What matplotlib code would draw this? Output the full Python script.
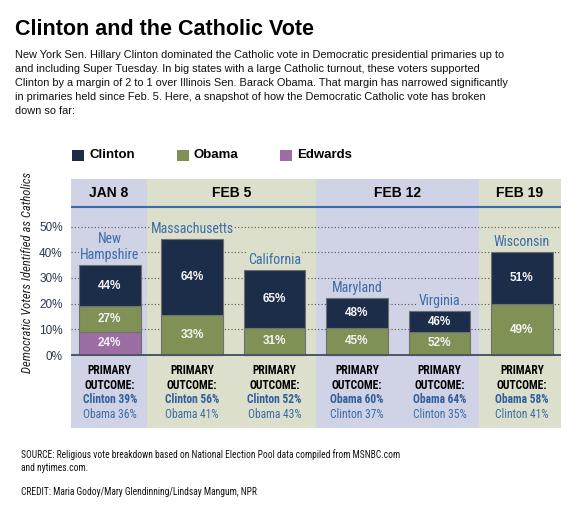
import numpy as np
import matplotlib
matplotlib.use("Agg")
import matplotlib.pyplot as plt
import matplotlib.font_manager as fm
from matplotlib.patches import Rectangle

# data
states = ["New\nHampshire", "Massachusetts", "California", "Maryland", "Virginia", "Wisconsin"]
# bar segment heights, % of Democratic voters identified as Catholics
edwards_h = [9.0, 0, 0, 0, 0, 0]
obama_h = [10.0, 15.5, 10.6, 10.6, 9.0, 19.7]
clinton_h = [16.0, 29.5, 22.4, 11.4, 8.0, 20.3]
# share of the Catholic vote, printed in the segments
edwards_lbl = ["24%", "", "", "", "", ""]
obama_lbl = ["27%", "33%", "31%", "45%", "52%", "49%"]
clinton_lbl = ["44%", "64%", "65%", "48%", "46%", "51%"]
# primary outcomes
winner = ["Clinton 39%", "Clinton 56%", "Clinton 52%", "Obama 60%", "Obama 64%", "Obama 58%"]
runner = ["Obama 36%", "Obama 41%", "Obama 43%", "Clinton 37%", "Clinton 35%", "Clinton 41%"]
dates = ["JAN 8", "FEB 5", "FEB 12", "FEB 19"]
date_edges = [-0.47, 0.45, 2.5, 4.48, 5.475]
yticks = [0, 10, 20, 30, 40, 50]

title = "Clinton and the Catholic Vote"
intro = [
    "New York Sen. Hillary Clinton dominated the Catholic vote in Democratic presidential primaries up to",
    "and including Super Tuesday. In big states with a large Catholic turnout, these voters supported",
    "Clinton by a margin of 2 to 1 over Illinois Sen. Barack Obama. That margin has narrowed significantly",
    "in primaries held since Feb. 5. Here, a snapshot of how the Democratic Catholic vote has broken",
    "down so far:",
]
source = ["SOURCE: Religious vote breakdown based on National Election Pool data compiled from MSNBC.com",
          "and nytimes.com."]
credit = "CREDIT: Maria Godoy/Mary Glendinning/Lindsay Mangum, NPR"

C_CLINTON = "#1c2d4a"
C_OBAMA = "#7f9155"
C_EDWARDS = "#9c6ea3"
BG = ["#d0d2e6", "#dcdfcb", "#d0d2e6", "#dcdfcb"]
BLUE = "#3b6ca8"
SANS = ["Liberation Sans", "DejaVu Sans"]

# look for a condensed face, the original uses a condensed grotesque
have = {f.name for f in fm.fontManager.ttflist}
NARROW = None
NSTRETCH = "normal"
for cand in ["Liberation Sans Narrow", "Arial Narrow", "Roboto Condensed", "Open Sans Condensed",
             "Noto Sans Condensed", "DejaVu Sans Condensed"]:
    if cand in have:
        NARROW = [cand, "DejaVu Sans"]
        break
if NARROW is None:
    cond = [f.name for f in fm.fontManager.ttflist
            if str(f.stretch) in ("condensed", "semi-condensed", "extra-condensed", "ultra-condensed",
                                  "500", "400", "300", "200")]
    if cond:
        NARROW = [cond[0], "DejaVu Sans"]
        NSTRETCH = "condensed"
NSCALE = 1.0
if NARROW is None:
    NARROW = SANS
    NSCALE = 0.84

def nsize(s):
    return s * NSCALE

W, H = 579, 511
fig = plt.figure(figsize=(W / 100, H / 100), dpi=100)
fig.patch.set_facecolor("white")

def fx(px):
    return px / W

def fy(py):
    return (H - py) / H

ax = fig.add_axes([fx(71), fy(428), 490 / W, (428 - 179) / H])
ax.set_xlim(date_edges[0], date_edges[-1])
ax.set_ylim(-28.4, 68.5)
for s in ax.spines.values():
    s.set_visible(False)

# background bands per date
for i in range(len(dates)):
    ax.axvspan(date_edges[i], date_edges[i + 1], color=BG[i], zorder=0, lw=0)
    ax.text((date_edges[i] + date_edges[i + 1]) / 2, 63.0, dates[i], ha="center", va="center",
            fontsize=10, fontweight="bold", family=SANS, color="black")
ax.axhline(57.7, color=BLUE, lw=1.5, zorder=2)

for v in yticks[1:]:
    ax.axhline(v, color="#555555", lw=0.8, linestyle=(0, (1, 2)), zorder=1)
ax.axhline(0, color="#4b5566", lw=1.4, zorder=4)

x = np.arange(len(states))
bw = 0.75
edw = np.array(edwards_h)
oba = np.array(obama_h)
cli = np.array(clinton_h)
ax.bar(x, edw, bw, color=C_EDWARDS, edgecolor="#707070", lw=0.8, zorder=3)
ax.bar(x, oba, bw, bottom=edw, color=C_OBAMA, edgecolor="#707070", lw=0.8, zorder=3)
ax.bar(x, cli, bw, bottom=edw + oba, color=C_CLINTON, edgecolor="#707070", lw=0.8, zorder=3)

lab_kw = dict(ha="center", va="center", color="#f4f4f4", fontsize=8.5, fontweight="bold",
              family=SANS, zorder=5)
nk = dict(family=NARROW, fontstretch=NSTRETCH)
for i in range(len(states)):
    if edwards_lbl[i]:
        ax.text(x[i], edw[i] / 2, edwards_lbl[i], **lab_kw)
    ax.text(x[i], edw[i] + oba[i] / 2, obama_lbl[i], **lab_kw)
    ax.text(x[i], edw[i] + oba[i] + cli[i] / 2, clinton_lbl[i], **lab_kw)
    top = edw[i] + oba[i] + cli[i]
    band = np.searchsorted(date_edges, x[i]) - 1
    ax.text(x[i], top + 1.2, states[i], ha="center", va="bottom", color=BLUE, fontsize=nsize(10),
            linespacing=1.15, zorder=5,
            bbox=dict(facecolor=BG[band], edgecolor="none", pad=0.5), **nk)
    # primary outcome block
    ax.text(x[i], -6.1, "PRIMARY", ha="center", va="center", fontsize=nsize(8.3), fontweight="bold",
            color="black", **nk)
    ax.text(x[i], -12.0, "OUTCOME:", ha="center", va="center", fontsize=nsize(8.3), fontweight="bold",
            color="black", **nk)
    ax.text(x[i], -17.5, winner[i], ha="center", va="center", fontsize=nsize(8.3), fontweight="bold",
            color="#2f5f9e", **nk)
    ax.text(x[i], -23.3, runner[i], ha="center", va="center", fontsize=nsize(8.3),
            color=BLUE, **nk)

ax.set_xticks([])
ax.set_yticks(yticks)
ax.set_yticklabels([f"{v}%" for v in yticks], fontsize=8.5, color="#2b3650", family=SANS)
ax.tick_params(axis="y", length=0, pad=6)

fig.text(fx(28), fy(272.5), "Democratic Voters Identified as Catholics", rotation=90,
         ha="center", va="center", fontsize=nsize(9.1), style="italic", color="#222222", **nk)

# legend
for px, name, col in [(72, "Clinton", C_CLINTON), (176.5, "Obama", C_OBAMA), (280, "Edwards", C_EDWARDS)]:
    fig.patches.append(Rectangle((fx(px), fy(161)), 12 / W, 11 / H, transform=fig.transFigure,
                                 facecolor=col, edgecolor="none"))
    fig.text(fx(px + 17), fy(155.5), name, ha="left", va="center", fontsize=9.5,
             fontweight="bold", family=SANS, color="black")

# title and text
fig.text(fx(15), fy(35), title, ha="left", va="baseline", fontsize=15.5, fontweight="bold",
         family=SANS, color="black")
for k, line in enumerate(intro):
    fig.text(fx(15), fy(58.5 + 14 * k), line, ha="left", va="baseline", fontsize=7.9,
             family=SANS, color="#111111")
for k, line in enumerate(source):
    fig.text(fx(21), fy(458 + 12.7 * k), line, ha="left", va="baseline", fontsize=nsize(6.85),
             color="#111111", **nk)
fig.text(fx(21), fy(495), credit, ha="left", va="baseline", fontsize=nsize(6.85),
         color="#111111", **nk)

fig.savefig("out.png", dpi=100)
